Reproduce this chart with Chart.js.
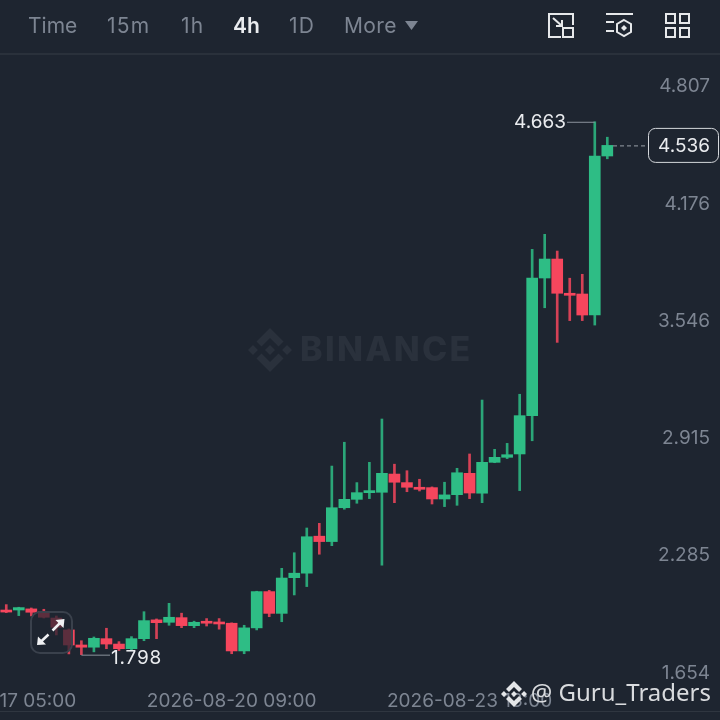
<!DOCTYPE html>
<html>
<head>
<meta charset="utf-8">
<title>4h chart</title>
<script src="https://cdn.jsdelivr.net/npm/chart.js@4"></script>
<style>
  html, body { margin: 0; padding: 0; background: #1e2530; overflow: hidden; }
  #wrap { position: relative; width: 720px; height: 720px; font-family: Inter, sans-serif; }
  canvas { position: absolute; left: 0; top: 0; }
  .tab { position: absolute; top: 13px; font-size: 21px; line-height: 26px; color: #7d8592; }
  .tab.wide { letter-spacing: 1.2px; }
  .tab.on { color: #eaecef; font-weight: 600; }
  #bar { position: absolute; left: 0; top: 0; width: 720px; height: 53px; border-bottom: 2px solid #2a313b; box-sizing: content-box; }
  svg { position: absolute; left: 0; top: 0; }
</style>
</head>
<body>
<div id="wrap">
  <canvas id="chart" width="720" height="720"></canvas>
  <div id="bar">
    <span class="tab" style="left:28px">Time</span>
    <span class="tab wide" style="left:107px">15m</span>
    <span class="tab wide" style="left:181px">1h</span>
    <span class="tab on" style="left:233px">4h</span>
    <span class="tab wide" style="left:289px">1D</span>
    <span class="tab" style="left:344px;letter-spacing:.4px">More</span>
    <svg width="720" height="53" fill="none" stroke="#e6e8ea" stroke-width="2">
      <path d="M405 21h13l-6.500 9z" fill="#7d8592" stroke="none"/>
      <path d="M561 37h-12v-23h24v11"/><rect x="563" y="28" width="10" height="9"/>
      <path d="M553 18l9 8M562 20v6h-6"/>
      <path d="M606 14h27M606 22h8M606 31h8"/>
      <path d="M624 20l7 4v8l-7 4-7-4v-8z"/><path d="M624 25l3 3-3 3-3-3z" fill="#e6e8ea" stroke="none"/>
      <rect x="666" y="14" width="9" height="9"/><rect x="680" y="14" width="9" height="9"/>
      <rect x="666" y="28" width="9" height="9"/><rect x="680" y="28" width="9" height="9"/>
    </svg>
  </div>
</div>
<script>
// ===== 4h candles =====
const opens  = [2.038,2.038,2.044,2.028,1.995,1.931,1.850,1.838,1.884,1.855,1.830,1.884,1.985,1.972,1.997,1.954,1.975,1.970,1.967,1.818,1.942,2.137,2.020,2.212,2.236,2.435,2.406,2.588,2.633,2.669,2.671,2.769,2.723,2.698,2.696,2.635,2.658,2.773,2.666,2.832,2.859,2.877,3.083,3.823,3.925,3.741,3.737,3.624,4.479];
const closes = [2.027,2.051,2.026,1.999,1.945,1.850,1.838,1.886,1.855,1.830,1.884,1.981,1.970,1.999,1.954,1.972,1.967,1.963,1.818,1.942,2.137,2.020,2.210,2.236,2.432,2.406,2.588,2.633,2.669,2.680,2.773,2.725,2.698,2.687,2.635,2.657,2.776,2.667,2.832,2.859,2.873,3.083,3.823,3.925,3.741,3.730,3.624,4.479,4.536];
const highs  = [2.067,2.053,2.049,2.042,2.006,1.936,1.873,1.893,1.940,1.868,1.895,2.029,1.990,2.074,2.021,1.978,1.992,1.992,1.969,1.956,2.139,2.144,2.262,2.346,2.479,2.504,2.812,2.940,2.723,2.832,3.065,2.822,2.787,2.741,2.700,2.725,2.800,2.877,3.167,2.902,2.934,3.198,3.977,4.058,3.968,3.822,3.843,4.663,4.580];
const lows   = [2.024,2.008,2.006,1.995,1.904,1.802,1.798,1.813,1.830,1.820,1.820,1.873,1.884,1.956,1.943,1.943,1.952,1.935,1.803,1.803,1.931,2.002,1.975,2.119,2.164,2.338,2.384,2.580,2.612,2.637,2.279,2.615,2.674,2.678,2.608,2.594,2.601,2.637,2.615,2.830,2.852,2.680,2.948,3.663,3.477,3.594,3.594,3.570,4.464];

const priceTicks = ['4.807', '4.176', '3.546', '2.915', '2.285', '1.654'];
const timeLabels = ['2026-08-17 05:00', '2026-08-20 09:00', '2026-08-23 13:00'];
const timeIndex = [-1, 18, 37];
const highMark = { index: 47, price: 4.663 };
const lowMark = { index: 6, price: 1.798 };
const lastPrice = 4.536;

const UP = '#2ebd85';
const DOWN = '#f6465d';
const colors = opens.map((o, i) => (closes[i] >= o ? UP : DOWN));
const wickColors = colors.map(c => c + 'd9');
const candleX = opens.map((o, i) => i);

const logo = new Path2D('M38.73 53.2l24.59-24.58 24.6 24.6 14.3-14.31L63.32 0 24.43 38.89z M0 63.31l14.3-14.31 14.31 14.31-14.31 14.3z M38.73 73.41l24.59 24.59 24.6-24.6 14.31 14.29-38.9 38.91-38.91-38.88-.02-.02z M97.99 63.31l14.3-14.3 14.32 14.3-14.31 14.31z M77.83 63.3L63.32 48.78 52.59 59.51l-1.24 1.23-2.54 2.54 14.51 14.5 14.5-14.47z');

function drawLogo(ctx, x, y, size, color) {
  ctx.save();
  ctx.translate(x, y);
  ctx.scale(size / 126.61, size / 126.61);
  ctx.fillStyle = color;
  ctx.fill(logo);
  ctx.restore();
}

const watermark = {
  id: 'watermark',
  beforeDatasetsDraw(chart) {
    const ctx = chart.ctx;
    drawLogo(ctx, 248, 328, 44, '#2a313c');
    ctx.save();
    ctx.font = '800 34px Inter';
    ctx.letterSpacing = '2.3px';
    ctx.fillStyle = '#2a313c';
    ctx.textBaseline = 'middle';
    ctx.fillText('BINANCE', 300, 351);
    ctx.restore();
  }
};

const callouts = {
  id: 'callouts',
  afterDatasetsDraw(chart) {
    const { ctx, scales: { x, y } } = chart;
    ctx.save();
    ctx.font = '19px Inter';
    ctx.textBaseline = 'middle';
    ctx.lineWidth = 1;

    // high / low tags
    const hx = x.getPixelForValue(highMark.index), hy = y.getPixelForValue(highMark.price);
    ctx.strokeStyle = '#8b929c';
    ctx.beginPath(); ctx.moveTo(567, hy + 0.5); ctx.lineTo(hx, hy + 0.5); ctx.stroke();
    ctx.fillStyle = '#eaecef';
    ctx.textAlign = 'right';
    ctx.fillText(highMark.price.toFixed(3), 566, hy + 1);

    const lx = x.getPixelForValue(lowMark.index), ly = y.getPixelForValue(lowMark.price);
    ctx.beginPath(); ctx.moveTo(lx, ly + 0.5); ctx.lineTo(110, ly + 0.5); ctx.stroke();
    ctx.textAlign = 'left';
    ctx.letterSpacing = '0.8px';
    ctx.fillText(lowMark.price.toFixed(3), 111, ly + 4);
    ctx.letterSpacing = '0px';

    // last price box
    const py = y.getPixelForValue(lastPrice);
    ctx.setLineDash([4, 3]);
    ctx.strokeStyle = '#9aa0a9';
    ctx.beginPath(); ctx.moveTo(613, py + 0.5); ctx.lineTo(648, py + 0.5); ctx.stroke();
    ctx.setLineDash([]);
    ctx.strokeStyle = '#d5d8dc';
    ctx.fillStyle = '#1e2530';
    ctx.beginPath(); ctx.roundRect(648.5, py - 17, 70, 34, 7); ctx.fill(); ctx.stroke();
    ctx.fillStyle = '#eaecef';
    ctx.textAlign = 'right';
    ctx.fillText(lastPrice.toFixed(3), 710, py + 1);
    ctx.restore();
  },
  afterDraw(chart) {
    const ctx = chart.ctx;
    ctx.save();
    // expand button over the candles
    ctx.fillStyle = 'rgba(30,37,48,0.72)';
    ctx.strokeStyle = '#3a414c';
    ctx.lineWidth = 2;
    ctx.beginPath(); ctx.roundRect(31, 612, 41, 41, 9); ctx.fill(); ctx.stroke();
    ctx.strokeStyle = '#f0f1f3';
    ctx.fillStyle = '#f0f1f3';
    ctx.lineWidth = 2.5;
    ctx.beginPath(); ctx.moveTo(52.5, 630.5); ctx.lineTo(61, 622); ctx.moveTo(48.5, 634.5); ctx.lineTo(40, 642.5); ctx.stroke();
    ctx.beginPath(); ctx.moveTo(64.5, 619); ctx.lineTo(63.5, 628); ctx.lineTo(55.5, 620); ctx.closePath(); ctx.fill();
    ctx.beginPath(); ctx.moveTo(37, 645); ctx.lineTo(38, 636.5); ctx.lineTo(46, 644.5); ctx.closePath(); ctx.fill();

    // bottom rule
    ctx.fillStyle = '#2f3640';
    ctx.fillRect(0, 711, 720, 1);

    // post watermark
    drawLogo(ctx, 501, 681, 26, '#e4e6e8');
    ctx.font = '24px "Noto Sans"';
    ctx.fillStyle = '#d9dbde';
    ctx.textAlign = 'right';
    ctx.textBaseline = 'middle';
    ctx.fillText('@ Guru_Traders', 711, 694);
    ctx.restore();
  }
};

new Chart(document.getElementById('chart'), {
  type: 'bar',
  data: {
    datasets: [
      {
        label: 'wick',
        data: candleX.map(i => ({ x: i, y: [lows[i], highs[i]] })),
        backgroundColor: wickColors,
        barThickness: 2,
        grouped: false,
        order: 2
      },
      {
        label: 'body',
        data: candleX.map(i => ({ x: i, y: [opens[i], closes[i]] })),
        backgroundColor: colors,
        barThickness: 11,
        minBarLength: 2,
        grouped: false,
        order: 1
      }
    ]
  },
  plugins: [watermark, callouts],
  options: {
    responsive: false,
    animation: false,
    events: [],
    layout: { padding: { top: 55, left: 0, right: 0, bottom: 0 } },
    plugins: { legend: { display: false }, tooltip: { enabled: false } },
    scales: {
      x: {
        type: 'linear',
        offset: false,
        min: -0.5,
        max: 57,
        grid: { display: false, drawTicks: false },
        border: { display: false },
        afterBuildTicks: axis => { axis.ticks = timeIndex.map(v => ({ value: v })); },
        afterFit: axis => { axis.height = 38; axis.paddingLeft = 0; axis.paddingRight = 0; },
        ticks: {
          autoSkip: false,
          maxRotation: 0,
          padding: 8,
          color: '#7d8592',
          font: { family: 'Inter', size: 19 },
          callback: (v, i) => timeLabels[i]
        }
      },
      y: {
        position: 'right',
        min: 1.651,
        max: 5.022,
        grid: { display: false, drawTicks: false },
        border: { display: false },
        afterBuildTicks: axis => { axis.ticks = priceTicks.map(t => ({ value: parseFloat(t) })); },
        afterFit: axis => { axis.width = 0; axis.paddingTop = 0; axis.paddingBottom = 0; },
        ticks: {
          autoSkip: false,
          mirror: true,
          padding: -10,
          color: '#7d8592',
          font: { family: 'Inter', size: 19, lineHeight: 0.9 },
          // blank second line lifts the price above its level
          callback: v => [v.toFixed(3), '']
        }
      }
    }
  }
});
</script>
</body>
</html>
